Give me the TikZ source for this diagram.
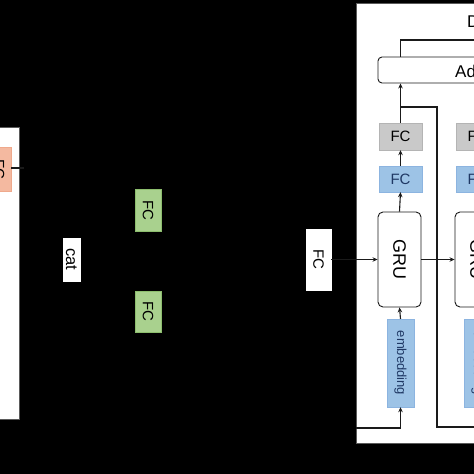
\documentclass[tikz,border=0pt]{standalone}
\usepackage{fontspec}
\setmainfont{Liberation Sans}
\usetikzlibrary{arrows.meta}
\definecolor{wire}{HTML}{1A1A1A}
\definecolor{frame}{HTML}{5A5A5A}
\definecolor{navy}{HTML}{1F3864}
\definecolor{grayfill}{HTML}{C9C9C9}
\definecolor{grayline}{HTML}{B4B4B4}
\definecolor{bluefill}{HTML}{9DC3E6}
\definecolor{blueline}{HTML}{8CB4E0}
\definecolor{greenfill}{HTML}{A9D18E}
\definecolor{greenline}{HTML}{8DBE6E}
\definecolor{peachfill}{HTML}{F4B9A0}
\definecolor{peachline}{HTML}{EFA98C}

\begin{document}
\begin{tikzpicture}[x=1pt, y=-1pt,
  wireto/.style={-{Stealth[length=5pt,width=4.5pt]}, wire, line width=1.1pt},
  wireline/.style={wire, line width=1.1pt},
  panel/.style={fill=white, draw=frame, line width=0.8pt},
  graybox/.style={fill=grayfill, draw=grayline, inner sep=0pt, font=\fontsize{15}{15}\selectfont},
  bluebox/.style={fill=bluefill, draw=blueline, text=navy, inner sep=0pt, font=\fontsize{15}{15}\selectfont},
  greenbox/.style={fill=greenfill, draw=greenline, inner sep=0pt, rotate=-90, font=\fontsize{15}{15}\selectfont},
  whitebox/.style={fill=white, draw=white, inner sep=0pt, rotate=-90, font=\fontsize{15}{15}\selectfont},
  grubox/.style={fill=white, draw=wire, rounded corners=5pt, line width=0.9pt, inner sep=0pt, rotate=-90,
                 minimum width=95pt, minimum height=43pt, font=\fontsize{18}{18}\selectfont},
  embbox/.style={fill=bluefill, draw=blueline, text=navy, inner sep=0pt, rotate=-90,
                 minimum width=88pt, minimum height=27pt, font=\fontsize{13}{13}\selectfont}]
  \fill[black] (0,0) rectangle (474,474);
  \useasboundingbox (0,0) rectangle (474,474);

  % encoder side (cut at the left edge)
  \draw[panel] (-20,127) rectangle (19,419);
  \node[greenbox, fill=peachfill, draw=peachline, minimum width=44pt, minimum height=24pt] (fcpeach) at (-1,169) {FC};
  \coordinate (peachout) at (24,168);
  \draw[wireline] (fcpeach.north |- peachout) -- (peachout);

  \node[greenbox, minimum width=42pt, minimum height=26pt] (fcup) at (148,210) {FC};
  \node[greenbox, minimum width=41pt, minimum height=26pt] (fcdown) at (148,311.5) {FC};
  \node[whitebox, minimum width=43pt, minimum height=17pt, font=\fontsize{16.5}{16.5}\selectfont] (cat) at (71.5,259.5) {cat};
  \node[whitebox, minimum width=61pt, minimum height=25pt] (fcin) at (318.5,259.5) {FC};

  % decoder panel
  \draw[panel] (356,3) rectangle (520,443);
  \node[anchor=west, inner sep=0pt, font=\fontsize{17}{17}\selectfont] (dectitle) at (467,21) {Decoder};
  \node[fill=white, draw=wire, line width=0.9pt, rounded corners=4pt, minimum width=182pt, minimum height=26pt] (add) at (469,70) {};
  \node[anchor=west, inner sep=0pt, font=\fontsize{17}{17}\selectfont] (addtext) at (455,71) {Add};

  \node[graybox, minimum width=43pt, minimum height=27pt] (fcgray) at (400.5,136.5) {FC};
  \node[bluebox, minimum width=43pt, minimum height=26pt] (fcblue) at (400.5,179) {FC};
  \node[grubox] (gru) at (399.5,259.5) {GRU};
  \node[embbox] (emb) at (400.5,363) {embedding};

  \node[graybox, minimum width=43pt, minimum height=27pt] (fcgraytwo) at (477.5,136.5) {FC};
  \node[bluebox, minimum width=43pt, minimum height=26pt] (fcbluetwo) at (477.5,179) {FC};
  \node[grubox] (grutwo) at (476.5,259.5) {GRU};
  \node[embbox] (embtwo) at (477.5,363) {embedding};

  % connectors (rotated nodes: west is top, north is right)
  \draw[wireto] (fcin.north) -- (gru.south);
  \draw[wireto] (gru.north) -- (grutwo.south);
  \draw[wireto] (emb.west) -- (gru.east);
  \draw[wireto] (gru.west) -- (fcblue.south);
  \draw[wireto] (fcblue.north) -- (fcgray.south);
  \draw[wireto] (fcgray.north) -- (fcgray.north |- add.south);
  \coordinate (top) at (520,40);
  \draw[wireline] (fcgray.north |- add.north) |- (top);
  \coordinate (start) at (356,428);
  \draw[wireto] (start) -| (emb.east);
  \coordinate (tap) at (400.5,107);
  \draw[wireto] (tap) -| (437,427) -| (embtwo.east);
\end{tikzpicture}
\end{document}
